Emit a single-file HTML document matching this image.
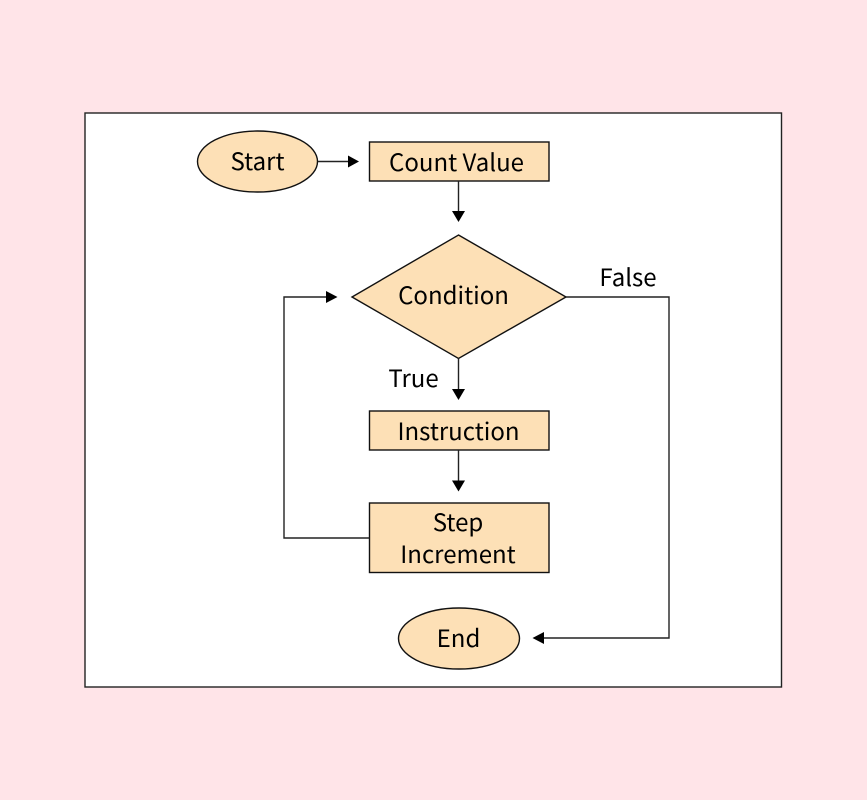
<!DOCTYPE html>
<html>
<head>
<meta charset="utf-8">
<style>
html,body{margin:0;padding:0;background:#ffe4e8;}
svg{display:block;}
text{font-family:"Noto Sans CJK SC","Noto Sans CJK JP","Liberation Sans",sans-serif;font-size:24px;fill:#000;text-anchor:middle;}
.s{fill:#fde0b6;stroke:#111;stroke-width:1.4;}
.l{fill:none;stroke:#222;stroke-width:1.4;}
</style>
</head>
<body>
<svg width="867" height="800" viewBox="0 0 867 800" xmlns="http://www.w3.org/2000/svg">
<rect x="0" y="0" width="867" height="800" fill="#ffe4e8"/>
<rect x="85" y="113" width="696.5" height="574" fill="#fff" stroke="#222" stroke-width="1.4"/>

<ellipse class="s" cx="257.5" cy="161.5" rx="60" ry="30.5"/>
<rect class="s" x="369.5" y="142" width="179.5" height="39"/>
<polygon class="s" points="458.5,235 566,297 458.5,358.5 352,297"/>
<rect class="s" x="369.5" y="411" width="179.5" height="39"/>
<rect class="s" x="369.5" y="503" width="179.5" height="69.5"/>
<ellipse class="s" cx="459" cy="638.5" rx="60.5" ry="30.5"/>

<path class="l" d="M318 161.5H350"/>
<polygon points="359,161.5 348,155.5 348,167.5"/>
<path class="l" d="M458.5 181V214"/>
<polygon points="458.5,222 452,211 465,211"/>
<path class="l" d="M369.5 538H284V297H328"/>
<polygon points="337.5,297 326,291 326,303"/>
<path class="l" d="M458.5 358.5V392"/>
<polygon points="458.5,400 452,389 465,389"/>
<path class="l" d="M458.5 450V483"/>
<polygon points="458.5,491.5 452,480.5 465,480.5"/>
<path class="l" d="M566 297H669V638H542"/>
<polygon points="532.5,638 544,632 544,644"/>

<text x="257.5" y="170">Start</text>
<text x="456.5" y="171">Count Value</text>
<text x="453.5" y="304">Condition</text>
<text x="628" y="286">False</text>
<text x="413.5" y="387">True</text>
<text x="458.5" y="440">Instruction</text>
<text x="458" y="531">Step</text>
<text x="458" y="563">Increment</text>
<text x="458.5" y="647">End</text>
</svg>
</body>
</html>
